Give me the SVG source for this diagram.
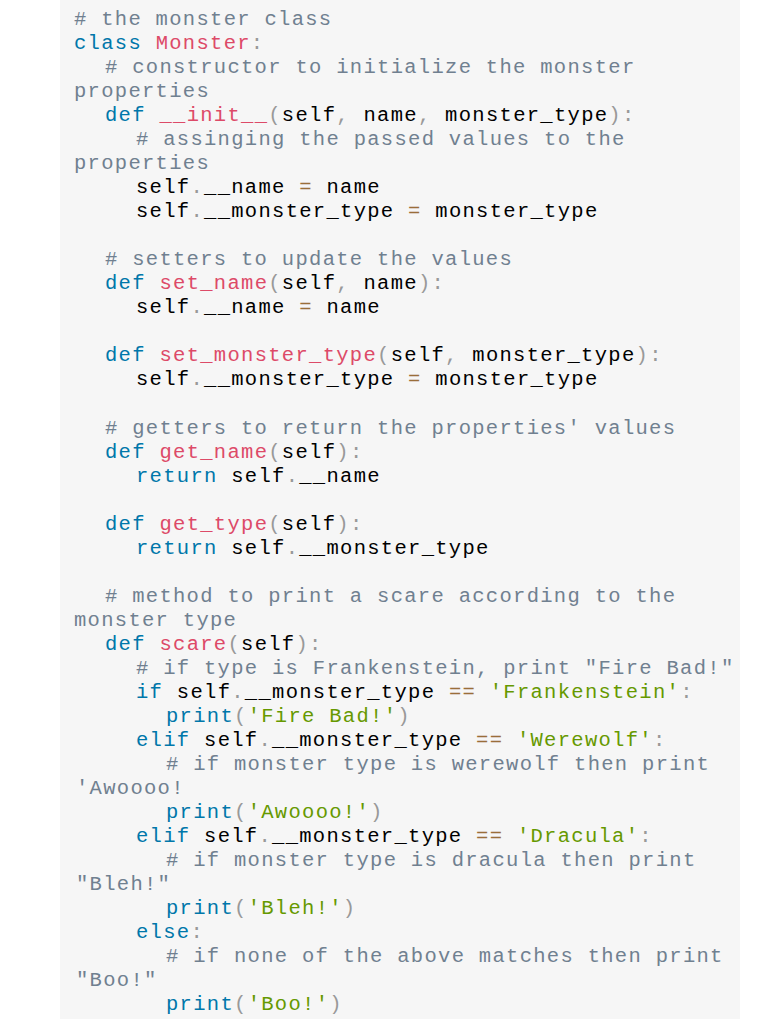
<svg xmlns="http://www.w3.org/2000/svg" width="769" height="1024" viewBox="0 0 769 1024">
<style>
text{font-family:"Liberation Mono","DejaVu Sans Mono",monospace;font-size:20.5px;letter-spacing:1.3px;fill:#000;white-space:pre}
.c{fill:#708090}.k{fill:#0077aa}.f{fill:#dd4a68}.s{fill:#669900}.p{fill:#999}.o{fill:#9a6e3a}
</style>
<rect x="60" y="0" width="680" height="1019" fill="#f6f6f6"/>
<g id="code" transform="translate(0,2)">
<text x="74" y="23" class="c">#<tspan> the monster class</tspan></text>
<text x="74" y="47"><tspan class="k">class</tspan> <tspan class="f">Monster</tspan><tspan class="p">:</tspan></text>
<text x="105" y="71" class="c"># constructor to initialize the monster</text>
<text x="74" y="95" class="c">properties</text>
<text x="105" y="119"><tspan class="k">def</tspan> <tspan class="f">__init__</tspan><tspan class="p">(</tspan>self<tspan class="p">,</tspan> name<tspan class="p">,</tspan> monster_type<tspan class="p">):</tspan></text>
<text x="136" y="143" class="c"># assinging the passed values to the</text>
<text x="74" y="167" class="c">properties</text>
<text x="136" y="191">self<tspan class="p">.</tspan>__name <tspan class="o">=</tspan> name</text>
<text x="136" y="215">self<tspan class="p">.</tspan>__monster_type <tspan class="o">=</tspan> monster_type</text>
<text x="105" y="263" class="c"># setters to update the values</text>
<text x="105" y="287"><tspan class="k">def</tspan> <tspan class="f">set_name</tspan><tspan class="p">(</tspan>self<tspan class="p">,</tspan> name<tspan class="p">):</tspan></text>
<text x="136" y="311">self<tspan class="p">.</tspan>__name <tspan class="o">=</tspan> name</text>
<text x="105" y="359"><tspan class="k">def</tspan> <tspan class="f">set_monster_type</tspan><tspan class="p">(</tspan>self<tspan class="p">,</tspan> monster_type<tspan class="p">):</tspan></text>
<text x="136" y="383">self<tspan class="p">.</tspan>__monster_type <tspan class="o">=</tspan> monster_type</text>
<text x="105" y="432" class="c"># getters to return the properties' values</text>
<text x="105" y="456"><tspan class="k">def</tspan> <tspan class="f">get_name</tspan><tspan class="p">(</tspan>self<tspan class="p">):</tspan></text>
<text x="136" y="480"><tspan class="k">return</tspan> self<tspan class="p">.</tspan>__name</text>
<text x="105" y="528"><tspan class="k">def</tspan> <tspan class="f">get_type</tspan><tspan class="p">(</tspan>self<tspan class="p">):</tspan></text>
<text x="136" y="552"><tspan class="k">return</tspan> self<tspan class="p">.</tspan>__monster_type</text>
<text x="105" y="600" class="c"># method to print a scare according to the</text>
<text x="74" y="624" class="c">monster type</text>
<text x="105" y="648"><tspan class="k">def</tspan> <tspan class="f">scare</tspan><tspan class="p">(</tspan>self<tspan class="p">):</tspan></text>
<text x="136" y="672" class="c"># if type is Frankenstein, print "Fire Bad!"</text>
<text x="136" y="696"><tspan class="k">if</tspan> self<tspan class="p">.</tspan>__monster_type <tspan class="o">==</tspan> <tspan class="s">'Frankenstein'</tspan><tspan class="p">:</tspan></text>
<text x="166" y="720"><tspan class="k">print</tspan><tspan class="p">(</tspan><tspan class="s">'Fire Bad!'</tspan><tspan class="p">)</tspan></text>
<text x="136" y="744"><tspan class="k">elif</tspan> self<tspan class="p">.</tspan>__monster_type <tspan class="o">==</tspan> <tspan class="s">'Werewolf'</tspan><tspan class="p">:</tspan></text>
<text x="166" y="768" class="c"># if monster type is werewolf then print</text>
<text x="76" y="792" class="c">'Awoooo!</text>
<text x="166" y="816"><tspan class="k">print</tspan><tspan class="p">(</tspan><tspan class="s">'Awoooo!'</tspan><tspan class="p">)</tspan></text>
<text x="136" y="840"><tspan class="k">elif</tspan> self<tspan class="p">.</tspan>__monster_type <tspan class="o">==</tspan> <tspan class="s">'Dracula'</tspan><tspan class="p">:</tspan></text>
<text x="166" y="864" class="c"># if monster type is dracula then print</text>
<text x="76" y="888" class="c">"Bleh!"</text>
<text x="166" y="912"><tspan class="k">print</tspan><tspan class="p">(</tspan><tspan class="s">'Bleh!'</tspan><tspan class="p">)</tspan></text>
<text x="136" y="936"><tspan class="k">else</tspan><tspan class="p">:</tspan></text>
<text x="166" y="960" class="c"># if none of the above matches then print</text>
<text x="76" y="984" class="c">"Boo!"</text>
<text x="166" y="1008"><tspan class="k">print</tspan><tspan class="p">(</tspan><tspan class="s">'Boo!'</tspan><tspan class="p">)</tspan></text>
</g>
</svg>
